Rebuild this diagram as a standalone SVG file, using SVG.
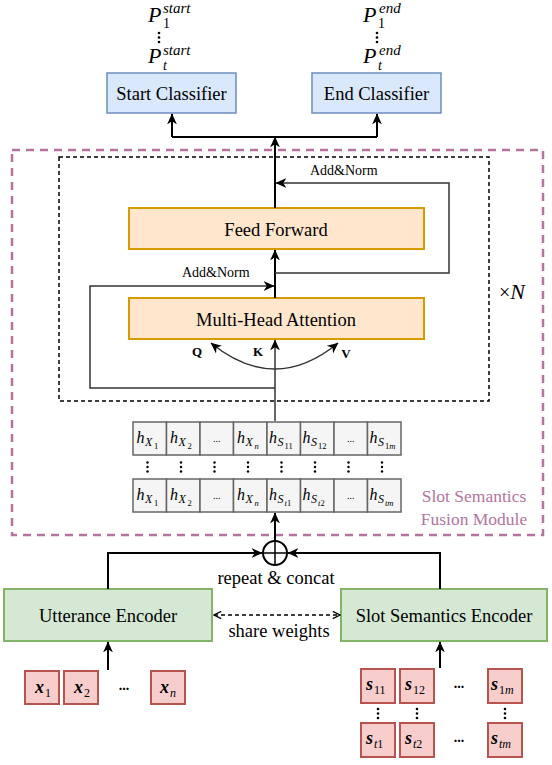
<svg xmlns="http://www.w3.org/2000/svg" width="552" height="765" viewBox="0 0 552 765" font-family="'Liberation Serif', 'DejaVu Serif', serif">
<style>
text{font-family:'Liberation Serif','DejaVu Serif',serif;fill:#000}
.lbl{font-size:18.5px;text-anchor:middle}
.small{font-size:14px}
.qkv{font-size:13px;font-weight:bold;text-anchor:middle}
.it{font-style:italic}
.blue{fill:#dae8fc;stroke:#6c8ebf;stroke-width:1.5}
.orange{fill:#ffe6cc;stroke:#d79b00;stroke-width:2}
.green{fill:#d5e8d4;stroke:#82b366;stroke-width:2}
.red{fill:#f8cecc;stroke:#b85450;stroke-width:2}
.cell{fill:#f5f5f5;stroke:#666666;stroke-width:1.5}
.ln{fill:none;stroke:#000;stroke-width:2}
.res{fill:none;stroke:#333;stroke-width:1.5}
.dot{fill:#000}
.h{font-size:16px;font-style:italic}
.X{font-size:12px;font-style:italic}
.n{font-size:8.5px}
</style>
<defs>
<marker id="arr" viewBox="0 0 10 10" refX="9.5" refY="5" markerWidth="11" markerHeight="11" markerUnits="userSpaceOnUse" orient="auto-start-reverse">
<path d="M0,0.5 L10,5 L0,9.5 L3,5 z" fill="#000"/>
</marker>
<marker id="open" viewBox="0 0 10 10" refX="9" refY="5" markerWidth="9" markerHeight="9" markerUnits="userSpaceOnUse" orient="auto-start-reverse">
<path d="M1,1 L9,5 L1,9" fill="none" stroke="#000" stroke-width="1.5"/>
</marker>
</defs>

<g id="fusion-module">
<rect x="12" y="150" width="531" height="385" fill="none" stroke="#B5739D" stroke-width="2.5" stroke-dasharray="8 6"/>
<text x="474" y="502" text-anchor="middle" style="font-size:17.5px;fill:#B5739D">Slot Semantics</text>
<text x="474" y="525" text-anchor="middle" style="font-size:17.5px;fill:#B5739D">Fusion Module</text>
</g>
<g id="transformer-block">
<rect x="59" y="157" width="430" height="244" fill="none" stroke="#000" stroke-width="1.5" stroke-dasharray="4 3"/>
<text x="499" y="299" style="font-size:20px">×<tspan class="it" style="font-size:22px">N</tspan></text>
</g>

<g id="p-start">
<text x="148" y="22" class="it" style="font-size:22px">P</text>
<text x="163" y="13" class="it" style="font-size:15px">start</text>
<text x="163" y="28" style="font-size:14px">1</text>
<circle cx="159" cy="33" r="1.3" class="dot"/><circle cx="159" cy="37.5" r="1.3" class="dot"/><circle cx="159" cy="42" r="1.3" class="dot"/>
<text x="148" y="63" class="it" style="font-size:22px">P</text>
<text x="163" y="55" class="it" style="font-size:15px">start</text>
<text x="163" y="70" class="it" style="font-size:14px">t</text>
</g>
<g id="p-end">
<text x="363" y="22" class="it" style="font-size:22px">P</text>
<text x="379" y="13" class="it" style="font-size:15px">end</text>
<text x="378" y="28" style="font-size:14px">1</text>
<circle cx="377" cy="33" r="1.3" class="dot"/><circle cx="377" cy="37.5" r="1.3" class="dot"/><circle cx="377" cy="42" r="1.3" class="dot"/>
<text x="363" y="63" class="it" style="font-size:22px">P</text>
<text x="379" y="55" class="it" style="font-size:15px">end</text>
<text x="378" y="70" class="it" style="font-size:14px">t</text>
</g>

<g id="start-classifier">
<rect x="107" y="73" width="129" height="40" class="blue"/>
<text x="171.5" y="100" class="lbl">Start Classifier</text>
</g>
<g id="end-classifier">
<rect x="312" y="73" width="129" height="40" class="blue"/>
<text x="376.5" y="100" class="lbl">End Classifier</text>
</g>

<g id="feed-forward">
<rect x="129" y="208" width="295" height="41" class="orange"/>
<text x="276" y="236" class="lbl">Feed Forward</text>
</g>
<g id="multi-head-attention">
<rect x="129" y="298" width="295" height="41" class="orange"/>
<text x="276" y="326" class="lbl">Multi-Head Attention</text>
</g>

<g id="hidden-grid">
<g>
<rect x="133" y="422" width="33.5" height="33" class="cell"/>
<rect x="166.5" y="422" width="33.5" height="33" class="cell"/>
<rect x="200" y="422" width="33.5" height="33" class="cell"/>
<rect x="233.5" y="422" width="33.5" height="33" class="cell"/>
<rect x="267" y="422" width="33.5" height="33" class="cell"/>
<rect x="300.5" y="422" width="33.5" height="33" class="cell"/>
<rect x="334" y="422" width="33.5" height="33" class="cell"/>
<rect x="367.5" y="422" width="33.5" height="33" class="cell"/>
<rect x="133" y="479" width="33.5" height="33" class="cell"/>
<rect x="166.5" y="479" width="33.5" height="33" class="cell"/>
<rect x="200" y="479" width="33.5" height="33" class="cell"/>
<rect x="233.5" y="479" width="33.5" height="33" class="cell"/>
<rect x="267" y="479" width="33.5" height="33" class="cell"/>
<rect x="300.5" y="479" width="33.5" height="33" class="cell"/>
<rect x="334" y="479" width="33.5" height="33" class="cell"/>
<rect x="367.5" y="479" width="33.5" height="33" class="cell"/>
</g>
<g>
<text x="136.5" y="443" class="h">h</text><text x="145" y="446" class="X">X</text><text x="154" y="449" class="n">1</text>
<text x="170" y="443" class="h">h</text><text x="178.5" y="446" class="X">X</text><text x="187.5" y="449" class="n">2</text>
<text x="216.7" y="442" text-anchor="middle" style="font-size:10px">...</text>
<text x="237" y="443" class="h">h</text><text x="245.5" y="446" class="X">X</text><text x="254.5" y="449" class="n it">n</text>
<text x="269" y="443" class="h">h</text><text x="277.5" y="446" class="X">S</text><text x="284.5" y="449" class="n">11</text>
<text x="302.5" y="443" class="h">h</text><text x="311" y="446" class="X">S</text><text x="318" y="449" class="n">12</text>
<text x="350.7" y="442" text-anchor="middle" style="font-size:10px">...</text>
<text x="369.5" y="443" class="h">h</text><text x="378" y="446" class="X">S</text><text x="385" y="449" class="n">1<tspan class="it">m</tspan></text>

<text x="136.5" y="500" class="h">h</text><text x="145" y="503" class="X">X</text><text x="154" y="506" class="n">1</text>
<text x="170" y="500" class="h">h</text><text x="178.5" y="503" class="X">X</text><text x="187.5" y="506" class="n">2</text>
<text x="216.7" y="499" text-anchor="middle" style="font-size:10px">...</text>
<text x="237" y="500" class="h">h</text><text x="245.5" y="503" class="X">X</text><text x="254.5" y="506" class="n it">n</text>
<text x="269" y="500" class="h">h</text><text x="277.5" y="503" class="X">S</text><text x="284.5" y="506" class="n"><tspan class="it">t</tspan>1</text>
<text x="302.5" y="500" class="h">h</text><text x="311" y="503" class="X">S</text><text x="318" y="506" class="n"><tspan class="it">t</tspan>2</text>
<text x="350.7" y="499" text-anchor="middle" style="font-size:10px">...</text>
<text x="369.5" y="500" class="h">h</text><text x="378" y="503" class="X">S</text><text x="385" y="506" class="n it">tm</text>
</g>
<g class="dot">
<circle cx="147.5" cy="462.5" r="1.2"/><circle cx="147.5" cy="467" r="1.2"/><circle cx="147.5" cy="471.5" r="1.2"/>
<circle cx="181" cy="462.5" r="1.2"/><circle cx="181" cy="467" r="1.2"/><circle cx="181" cy="471.5" r="1.2"/>
<circle cx="214.5" cy="462.5" r="1.2"/><circle cx="214.5" cy="467" r="1.2"/><circle cx="214.5" cy="471.5" r="1.2"/>
<circle cx="248" cy="462.5" r="1.2"/><circle cx="248" cy="467" r="1.2"/><circle cx="248" cy="471.5" r="1.2"/>
<circle cx="281.5" cy="462.5" r="1.2"/><circle cx="281.5" cy="467" r="1.2"/><circle cx="281.5" cy="471.5" r="1.2"/>
<circle cx="315" cy="462.5" r="1.2"/><circle cx="315" cy="467" r="1.2"/><circle cx="315" cy="471.5" r="1.2"/>
<circle cx="348.5" cy="462.5" r="1.2"/><circle cx="348.5" cy="467" r="1.2"/><circle cx="348.5" cy="471.5" r="1.2"/>
<circle cx="382" cy="462.5" r="1.2"/><circle cx="382" cy="467" r="1.2"/><circle cx="382" cy="471.5" r="1.2"/>
</g>
</g>

<g id="concat">
<circle cx="275" cy="553" r="12" fill="#fff" stroke="#000" stroke-width="2"/>
<path d="M263,553 H287 M275,541 V565" stroke="#000" stroke-width="1.5"/>
<text x="276" y="584" class="lbl">repeat &amp; concat</text>
</g>

<g id="utterance-encoder">
<rect x="4" y="589" width="208" height="52" class="green"/>
<text x="108" y="622" class="lbl">Utterance Encoder</text>
</g>
<g id="slot-semantics-encoder">
<rect x="341" y="589" width="206" height="52" class="green"/>
<text x="444" y="622" class="lbl">Slot Semantics Encoder</text>
</g>

<g id="utterance-tokens">
<rect x="25" y="671" width="34" height="33" class="red"/>
<text x="35" y="693" class="it" style="font-size:18px;font-weight:bold">x</text><text x="45" y="697" style="font-size:12px">1</text>
<rect x="64" y="671" width="34" height="33" class="red"/>
<text x="74" y="693" class="it" style="font-size:18px;font-weight:bold">x</text><text x="84" y="697" style="font-size:12px">2</text>
<text x="124" y="690" text-anchor="middle" style="font-size:14px;font-weight:bold">...</text>
<rect x="151" y="671" width="34" height="33" class="red"/>
<text x="160" y="693" class="it" style="font-size:18px;font-weight:bold">x</text><text x="170" y="697" class="it" style="font-size:12px">n</text>
</g>

<g id="slot-tokens">
<rect x="361" y="669" width="34" height="34" class="red"/>
<text x="366" y="690" class="it" style="font-size:18px;font-weight:bold">s</text><text x="374" y="694" style="font-size:12px">11</text>
<rect x="400" y="669" width="34" height="34" class="red"/>
<text x="405" y="690" class="it" style="font-size:18px;font-weight:bold">s</text><text x="413" y="694" style="font-size:12px">12</text>
<text x="459" y="688" text-anchor="middle" style="font-size:14px;font-weight:bold">...</text>
<rect x="488" y="669" width="34" height="34" class="red"/>
<text x="491" y="690" class="it" style="font-size:18px;font-weight:bold">s</text><text x="499" y="694" style="font-size:12px">1<tspan class="it">m</tspan></text>
<g class="dot">
<circle cx="378" cy="709" r="1.3"/><circle cx="378" cy="713.5" r="1.3"/><circle cx="378" cy="718" r="1.3"/>
<circle cx="417" cy="709" r="1.3"/><circle cx="417" cy="713.5" r="1.3"/><circle cx="417" cy="718" r="1.3"/>
<circle cx="505" cy="709" r="1.3"/><circle cx="505" cy="713.5" r="1.3"/><circle cx="505" cy="718" r="1.3"/>
</g>
<rect x="361" y="723" width="34" height="34" class="red"/>
<text x="366" y="744" class="it" style="font-size:18px;font-weight:bold">s</text><text x="374" y="748" class="it" style="font-size:12px">t<tspan style="font-style:normal">1</tspan></text>
<rect x="400" y="723" width="34" height="34" class="red"/>
<text x="405" y="744" class="it" style="font-size:18px;font-weight:bold">s</text><text x="413" y="748" class="it" style="font-size:12px">t<tspan style="font-style:normal">2</tspan></text>
<text x="459" y="742" text-anchor="middle" style="font-size:14px;font-weight:bold">...</text>
<rect x="488" y="723" width="34" height="34" class="red"/>
<text x="491" y="744" class="it" style="font-size:18px;font-weight:bold">s</text><text x="499" y="748" class="it" style="font-size:12px">tm</text>
</g>

<g id="connectors">
<path d="M275,208 V137" class="ln" marker-end="url(#arr)"/>
<path d="M172,137 H377" class="ln"/>
<path d="M172,137 V114" class="ln" marker-end="url(#arr)"/>
<path d="M377,137 V114" class="ln" marker-end="url(#arr)"/>
<path d="M275,298 V250" class="ln" marker-end="url(#arr)"/>
<path d="M275,273 H449 V183 H276" class="res" marker-end="url(#arr)"/>
<path d="M275,388 H90 V286 H274" class="res" marker-end="url(#arr)"/>
<path d="M275,421 V340" class="res" marker-end="url(#arr)"/>
<path d="M211,343 Q275,395 338,343" class="res" marker-start="url(#arr)" marker-end="url(#arr)"/>
<text x="197" y="356" class="qkv">Q</text>
<text x="258" y="356" class="qkv">K</text>
<text x="346" y="358" class="qkv">V</text>
<text x="310" y="175" class="small">Add&amp;Norm</text>
<text x="182" y="277" class="small">Add&amp;Norm</text>
<path d="M275,541 V513" class="ln" marker-end="url(#arr)"/>
<path d="M108,589 V553 H262" class="ln" marker-end="url(#arr)"/>
<path d="M440,589 V553 H288" class="ln" marker-end="url(#arr)"/>
<path d="M214,615 H340" fill="none" stroke="#000" stroke-width="1.5" stroke-dasharray="4 3" marker-start="url(#open)" marker-end="url(#open)"/>
<text x="279" y="637" class="lbl">share weights</text>
<path d="M108,670 V642" class="ln" marker-end="url(#arr)"/>
<path d="M440,668 V642" class="ln" marker-end="url(#arr)"/>
</g>
</svg>
